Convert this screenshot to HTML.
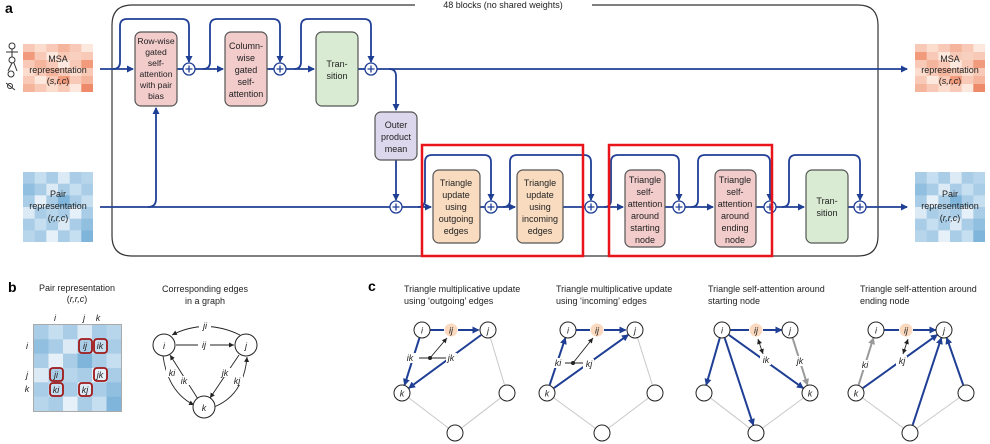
<!DOCTYPE html>
<html><head><meta charset="utf-8"><style>
html,body{margin:0;padding:0;background:#fff;}
svg{display:block;font-family:"Liberation Sans",sans-serif;}
.bx{stroke:#555;stroke-width:1.2;}
.t{font-size:9px;fill:#222;text-anchor:middle;}
.bl{stroke:#1f3f95;stroke-width:1.8;fill:none;}
.pl{fill:#fff;stroke:#1f3f95;stroke-width:1.3;}
.it{font-style:italic;}
.n{fill:#fff;stroke:#222;stroke-width:1;}
.g{stroke:#c8c8c8;stroke-width:1;fill:none;}
.k{stroke:#222;stroke-width:0.9;fill:none;}
.b2{stroke:#1f3f95;stroke-width:2;fill:none;}
.ga{stroke:#9a9a9a;stroke-width:2;fill:none;}
.px{stroke:#1f3f95;stroke-width:1.3;}
</style></head><body>
<svg width="990" height="444" viewBox="0 0 990 444" xmlns="http://www.w3.org/2000/svg">
<defs>
<marker id="a" markerWidth="8" markerHeight="8" refX="6" refY="4" orient="auto" markerUnits="userSpaceOnUse"><path d="M0,0.5 L7,4 L0,7.5 Z" fill="#1f3f95"/></marker>
<marker id="ag" markerWidth="8" markerHeight="8" refX="6" refY="4" orient="auto" markerUnits="userSpaceOnUse"><path d="M0,0.5 L7,4 L0,7.5 Z" fill="#999"/></marker>
<marker id="ak" markerWidth="6" markerHeight="6" refX="5" refY="3" orient="auto" markerUnits="userSpaceOnUse"><path d="M0,0.5 L5,3 L0,5.5 Z" fill="#222"/></marker>
<marker id="aks" markerWidth="6" markerHeight="6" refX="0" refY="3" orient="auto" markerUnits="userSpaceOnUse"><path d="M5,0.5 L0,3 L5,5.5 Z" fill="#222"/></marker>
<g id="rg">
<rect x="0" y="0" width="60" height="60" fill="#f7c9b6"/>
<rect x="0" y="10" width="10" height="10" fill="#f29a7c"/><rect x="10" y="0" width="10" height="10" fill="#fbdccd"/><rect x="30" y="0" width="10" height="10" fill="#f5b59c"/><rect x="50" y="0" width="10" height="10" fill="#fde8de"/>
<rect x="20" y="10" width="10" height="10" fill="#fde8de"/><rect x="40" y="10" width="10" height="10" fill="#f8d0c0"/><rect x="10" y="20" width="10" height="10" fill="#f5b59c"/><rect x="30" y="20" width="10" height="10" fill="#fde8de"/>
<rect x="50" y="20" width="10" height="10" fill="#f29a7c"/><rect x="0" y="30" width="10" height="10" fill="#fbdccd"/><rect x="20" y="30" width="10" height="10" fill="#f5b59c"/><rect x="40" y="30" width="10" height="10" fill="#fbdccd"/>
<rect x="10" y="40" width="10" height="10" fill="#fde8de"/><rect x="30" y="40" width="10" height="10" fill="#f29a7c"/><rect x="50" y="40" width="10" height="10" fill="#f5b59c"/><rect x="0" y="50" width="10" height="10" fill="#f5b59c"/>
<rect x="20" y="50" width="10" height="10" fill="#fbdccd"/><rect x="40" y="50" width="10" height="10" fill="#fde8de"/><rect x="50" y="50" width="10" height="10" fill="#ee8a6a"/>
</g>
<g id="bg">
<rect x="0" y="0" width="60" height="60" fill="#a9cde6"/>
<rect x="0" y="10" width="10" height="10" fill="#90bfe0"/><rect x="10" y="0" width="10" height="10" fill="#c5def0"/><rect x="30" y="0" width="10" height="10" fill="#dceaf5"/><rect x="50" y="0" width="10" height="10" fill="#b7d6ec"/>
<rect x="20" y="10" width="10" height="10" fill="#dceaf5"/><rect x="40" y="10" width="10" height="10" fill="#c5def0"/><rect x="10" y="20" width="10" height="10" fill="#e6f0f8"/><rect x="30" y="20" width="10" height="10" fill="#7fb5db"/>
<rect x="50" y="20" width="10" height="10" fill="#c5def0"/><rect x="0" y="30" width="10" height="10" fill="#dceaf5"/><rect x="20" y="30" width="10" height="10" fill="#b7d6ec"/><rect x="40" y="30" width="10" height="10" fill="#e6f0f8"/>
<rect x="10" y="40" width="10" height="10" fill="#c5def0"/><rect x="30" y="40" width="10" height="10" fill="#dceaf5"/><rect x="50" y="40" width="10" height="10" fill="#90bfe0"/><rect x="0" y="50" width="10" height="10" fill="#b7d6ec"/>
<rect x="20" y="50" width="10" height="10" fill="#e6f0f8"/><rect x="40" y="50" width="10" height="10" fill="#c5def0"/><rect x="50" y="50" width="10" height="10" fill="#7fb5db"/>
</g>
</defs>
<text x="5" y="13" font-size="14" font-weight="bold">a</text>
<path d="M415,5 H132 Q112,5 112,25 V236 Q112,256 132,256 H858 Q878,256 878,236 V25 Q878,5 858,5 H592" fill="none" stroke="#333" stroke-width="1.2"/>
<text x="503" y="8" font-size="9" text-anchor="middle" fill="#222">48 blocks (no shared weights)</text>
<use href="#rg" transform="translate(23,44) scale(1.1667,0.8)"/>
<use href="#rg" transform="translate(915,44) scale(1.1667,0.8)"/>
<use href="#bg" transform="translate(23,172) scale(1.1667,1.1667)"/>
<use href="#bg" transform="translate(915,172) scale(1.1667,1.1667)"/>
<text class="t" x="58" y="62">MSA</text><text class="t" x="58" y="73">representation</text><text class="t" x="58" y="84">(<tspan class="it">s,r,c</tspan>)</text>
<text class="t" x="950" y="62">MSA</text><text class="t" x="950" y="73">representation</text><text class="t" x="950" y="84">(<tspan class="it">s,r,c</tspan>)</text>
<text class="t" x="58" y="197">Pair</text><text class="t" x="58" y="209">representation</text><text class="t" x="58" y="221">(<tspan class="it">r,r,c</tspan>)</text>
<text class="t" x="950" y="197">Pair</text><text class="t" x="950" y="209">representation</text><text class="t" x="950" y="221">(<tspan class="it">r,r,c</tspan>)</text>
<g stroke="#333" fill="none" stroke-width="1"><circle cx="12" cy="46" r="3"/><circle cx="12" cy="60" r="3"/><circle cx="11" cy="74" r="3"/><circle cx="10" cy="86" r="2.5"/><path d="M12,49 V57 M6,52 H18 M12,63 L8,71 M14,63 L17,71 M6,83 L15,90"/></g>
<path class="bl" d="M100,69 H133" marker-end="url(#a)"/>
<path class="bl" d="M177,69 H183"/>
<path class="bl" d="M195,69 H223" marker-end="url(#a)"/>
<path class="bl" d="M267,69 H274"/>
<path class="bl" d="M286,69 H314" marker-end="url(#a)"/>
<path class="bl" d="M358,69 H365"/>
<path class="bl" d="M377,69 H907" marker-end="url(#a)"/>
<path class="bl" d="M113,69 Q120,69 120,62 V26 Q120,19 127,19 H182 Q189,19 189,26 V62" marker-end="url(#a)"/>
<path class="bl" d="M203,69 Q210,69 210,62 V26 Q210,19 217,19 H273 Q280,19 280,26 V62" marker-end="url(#a)"/>
<path class="bl" d="M294,69 Q301,69 301,62 V26 Q301,19 308,19 H364 Q371,19 371,26 V62" marker-end="url(#a)"/>
<path class="bl" d="M389,69 Q396,69 396,76 V110" marker-end="url(#a)"/>
<path class="bl" d="M396,160 V200" marker-end="url(#a)"/>
<path class="bl" d="M100,207 H390"/>
<path class="bl" d="M148,207 Q156,207 156,199 V108" marker-end="url(#a)"/>
<path class="bl" d="M402,207 H431" marker-end="url(#a)"/>
<path class="bl" d="M480,207 H485"/><path class="bl" d="M497,207 H515" marker-end="url(#a)"/>
<path class="bl" d="M563,207 H585"/><path class="bl" d="M597,207 H623" marker-end="url(#a)"/>
<path class="bl" d="M665,207 H673"/><path class="bl" d="M685,207 H713" marker-end="url(#a)"/>
<path class="bl" d="M756,207 H764"/><path class="bl" d="M776,207 H804" marker-end="url(#a)"/>
<path class="bl" d="M848,207 H854"/><path class="bl" d="M866,207 H907" marker-end="url(#a)"/>
<path class="bl" d="M418,207 Q425,207 425,200 V162 Q425,155 432,155 H484 Q491,155 491,162 V200" marker-end="url(#a)"/>
<path class="bl" d="M503,207 Q510,207 510,200 V162 Q510,155 517,155 H584 Q591,155 591,162 V200" marker-end="url(#a)"/>
<path class="bl" d="M604,207 Q611,207 611,200 V162 Q611,155 618,155 H672 Q679,155 679,162 V200" marker-end="url(#a)"/>
<path class="bl" d="M691,207 Q698,207 698,200 V162 Q698,155 705,155 H763 Q770,155 770,162 V200" marker-end="url(#a)"/>
<path class="bl" d="M782,207 Q789,207 789,200 V162 Q789,155 796,155 H853 Q860,155 860,162 V200" marker-end="url(#a)"/>
<g>
<circle class="pl" cx="189" cy="69" r="6"/><path class="px" d="M185.5,69H192.5M189,65.5V72.5"/>
<circle class="pl" cx="280" cy="69" r="6"/><path class="px" d="M276.5,69H283.5M280,65.5V72.5"/>
<circle class="pl" cx="371" cy="69" r="6"/><path class="px" d="M367.5,69H374.5M371,65.5V72.5"/>
<circle class="pl" cx="396" cy="207" r="6"/><path class="px" d="M392.5,207H399.5M396,203.5V210.5"/>
<circle class="pl" cx="491" cy="207" r="6"/><path class="px" d="M487.5,207H494.5M491,203.5V210.5"/>
<circle class="pl" cx="591" cy="207" r="6"/><path class="px" d="M587.5,207H594.5M591,203.5V210.5"/>
<circle class="pl" cx="679" cy="207" r="6"/><path class="px" d="M675.5,207H682.5M679,203.5V210.5"/>
<circle class="pl" cx="770" cy="207" r="6"/><path class="px" d="M766.5,207H773.5M770,203.5V210.5"/>
<circle class="pl" cx="860" cy="207" r="6"/><path class="px" d="M856.5,207H863.5M860,203.5V210.5"/>
</g>
<rect class="bx" x="135" y="32" width="42" height="74" rx="6" fill="#f2cbcb"/>
<text class="t" style="font-size:8.6px" x="156" y="44">Row-wise</text><text class="t" style="font-size:8.6px" x="156" y="55">gated</text><text class="t" style="font-size:8.6px" x="156" y="66">self-</text><text class="t" style="font-size:8.6px" x="156" y="77">attention</text><text class="t" style="font-size:8.6px" x="156" y="88">with pair</text><text class="t" style="font-size:8.6px" x="156" y="99">bias</text>
<rect class="bx" x="225" y="32" width="42" height="74" rx="6" fill="#f2cbcb"/>
<text class="t" x="246" y="49">Column-</text><text class="t" x="246" y="61">wise</text><text class="t" x="246" y="73">gated</text><text class="t" x="246" y="85">self-</text><text class="t" x="246" y="97">attention</text>
<rect class="bx" x="316" y="32" width="42" height="74" rx="6" fill="#d9ebd3"/>
<text class="t" x="337" y="67">Tran-</text><text class="t" x="337" y="79">sition</text>
<rect class="bx" x="375" y="112" width="42" height="48" rx="6" fill="#dcd7ec"/>
<text class="t" x="396" y="128">Outer</text><text class="t" x="396" y="140">product</text><text class="t" x="396" y="152">mean</text>
<rect class="bx" x="433" y="170" width="47" height="73" rx="6" fill="#f9dcc0"/>
<text class="t" x="456" y="186">Triangle</text><text class="t" x="456" y="198">update</text><text class="t" x="456" y="210">using</text><text class="t" x="456" y="222">outgoing</text><text class="t" x="456" y="234">edges</text>
<rect class="bx" x="517" y="170" width="46" height="73" rx="6" fill="#f9dcc0"/>
<text class="t" x="540" y="186">Triangle</text><text class="t" x="540" y="198">update</text><text class="t" x="540" y="210">using</text><text class="t" x="540" y="222">incoming</text><text class="t" x="540" y="234">edges</text>
<rect class="bx" x="625" y="170" width="40" height="77" rx="6" fill="#f2cbcb"/>
<text class="t" x="645" y="183">Triangle</text><text class="t" x="645" y="195">self-</text><text class="t" x="645" y="207">attention</text><text class="t" x="645" y="219">around</text><text class="t" x="645" y="231">starting</text><text class="t" x="645" y="243">node</text>
<rect class="bx" x="715" y="170" width="41" height="77" rx="6" fill="#f2cbcb"/>
<text class="t" x="735" y="183">Triangle</text><text class="t" x="735" y="195">self-</text><text class="t" x="735" y="207">attention</text><text class="t" x="735" y="219">around</text><text class="t" x="735" y="231">ending</text><text class="t" x="735" y="243">node</text>
<rect class="bx" x="806" y="170" width="42" height="73" rx="6" fill="#d9ebd3"/>
<text class="t" x="827" y="204">Tran-</text><text class="t" x="827" y="216">sition</text>
<rect x="422" y="145" width="161" height="111" fill="none" stroke="#e8141a" stroke-width="2.5"/>
<rect x="609" y="145" width="163" height="111" fill="none" stroke="#e8141a" stroke-width="2.5"/>

<!-- b -->
<text x="8" y="292" font-size="14" font-weight="bold">b</text>
<text class="t" x="77" y="291">Pair representation</text><text class="t" x="77" y="302">(<tspan class="it">r,r,c</tspan>)</text>
<rect x="33" y="324" width="89" height="88" fill="#aaa"/>
<use href="#bg" transform="translate(34,325) scale(1.45,1.433)"/>
<g class="t it"><text x="55" y="321">i</text><text x="84" y="321">j</text><text x="98" y="321">k</text><text x="27" y="349">i</text><text x="27" y="378">j</text><text x="27" y="392">k</text></g>
<g fill="none" stroke="#a01818" stroke-width="1.8"><rect x="79" y="339" width="13" height="14" rx="3"/><rect x="94" y="339" width="13" height="14" rx="3"/><rect x="50" y="368" width="13" height="13" rx="3"/><rect x="94" y="368" width="13" height="13" rx="3"/><rect x="50" y="383" width="13" height="13" rx="3"/><rect x="79" y="383" width="13" height="13" rx="3"/></g>
<g class="t it"><text x="85" y="349">ij</text><text x="100" y="349">ik</text><text x="56" y="378">ji</text><text x="100" y="378">jk</text><text x="56" y="393">ki</text><text x="85" y="393">kj</text></g>
<text class="t" x="205" y="292">Corresponding edges</text><text class="t" x="205" y="304">in a graph</text>
<path class="k" d="M240,335 Q205,318 172,335" marker-end="url(#ak)"/>
<path class="k" d="M176,345 H234" marker-end="url(#ak)"/>
<path class="k" d="M163,356 Q168,392 194,405" marker-end="url(#ak)"/>
<path class="k" d="M198,399 L170,355" marker-end="url(#ak)"/>
<path class="k" d="M239,355 L210,398" marker-end="url(#ak)"/>
<path class="k" d="M214,407 Q244,395 247,357" marker-end="url(#ak)"/>
<g fill="#fff"><rect x="199" y="321" width="12" height="9"/><rect x="198" y="340" width="12" height="9"/><rect x="166" y="368" width="12" height="9"/><rect x="178" y="376" width="12" height="9"/><rect x="219" y="368" width="12" height="9"/><rect x="231" y="376" width="12" height="9"/></g>
<g class="t it"><text x="205" y="329">ji</text><text x="204" y="348">ij</text><text x="184" y="384">ik</text><text x="172" y="376">ki</text><text x="225" y="376">jk</text><text x="237" y="384">kj</text></g>
<circle class="n" cx="164" cy="345" r="11"/><circle class="n" cx="246" cy="345" r="11"/><circle class="n" cx="204" cy="407" r="11"/>
<g class="t it"><text x="164" y="349">i</text><text x="246" y="349">j</text><text x="204" y="411">k</text></g>

<!-- c -->
<text x="368" y="291" font-size="14" font-weight="bold">c</text>
<g class="t"><text x="404" y="292" text-anchor="start">Triangle multiplicative update</text><text x="404" y="304" text-anchor="start">using ‘outgoing’ edges</text>
<text x="556" y="292" text-anchor="start">Triangle multiplicative update</text><text x="556" y="304" text-anchor="start">using ‘incoming’ edges</text>
<text x="708" y="292" text-anchor="start">Triangle self-attention around</text><text x="708" y="304" text-anchor="start">starting node</text>
<text x="860" y="292" text-anchor="start">Triangle self-attention around</text><text x="860" y="304" text-anchor="start">ending node</text></g>

<!-- panel1 -->
<line class="g" x1="490.5" y1="338.1" x2="504.5" y2="384.9"/><line class="g" x1="500.3" y1="398.2" x2="461.7" y2="427.8"/><line class="g" x1="448.2" y1="427.9" x2="408.8" y2="397.9"/>
<line class="b2" x1="430.5" y1="330" x2="444" y2="330"/><line class="b2" x1="458" y1="330" x2="478.5" y2="330" marker-end="url(#a)"/>
<line class="b2" x1="419.4" y1="338.1" x2="404.6" y2="384.9" marker-end="url(#a)"/>
<line class="b2" x1="481.1" y1="335" x2="408.9" y2="388" marker-end="url(#a)"/>
<line x1="419" y1="358" x2="446" y2="358" stroke="#222" stroke-width="0.9"/><circle cx="430" cy="358" r="2" fill="#222"/>
<line class="k" x1="430" y1="358" x2="447" y2="338" marker-end="url(#ak)"/>
<rect x="405" y="353" width="11" height="10" fill="#fff"/><rect x="446" y="353" width="11" height="10" fill="#fff"/>
<text class="t it" x="410" y="361">ik</text><text class="t it" x="451" y="361">jk</text>
<circle class="n" cx="422" cy="330" r="8"/><circle class="n" cx="488" cy="330" r="8"/><circle class="n" cx="402" cy="393" r="8"/><circle class="n" cx="507" cy="393" r="8"/><circle class="n" cx="455" cy="433" r="8"/>
<circle cx="451" cy="330" r="6.5" fill="#fbd9bf"/>
<g class="t it"><text x="422" y="333.5">i</text><text x="488" y="333.5">j</text><text x="402" y="396.5">k</text><text x="451" y="333.5">ij</text></g>

<!-- panel2 -->
<line class="g" x1="637.6" y1="338.1" x2="652.4" y2="384.9"/><line class="g" x1="648.2" y1="398.1" x2="608.8" y2="427.9"/><line class="g" x1="595.1" y1="428" x2="553.9" y2="398"/>
<line class="b2" x1="576.5" y1="330" x2="590" y2="330"/><line class="b2" x1="604" y1="330" x2="625.5" y2="330" marker-end="url(#a)"/>
<line class="b2" x1="549.7" y1="384.9" x2="565.3" y2="338.1" marker-end="url(#a)"/>
<line class="b2" x1="553.9" y1="388.1" x2="628.1" y2="334.9" marker-end="url(#a)"/>
<line x1="565" y1="363" x2="591" y2="363" stroke="#222" stroke-width="0.9"/><circle cx="573" cy="363" r="2" fill="#222"/>
<line class="k" x1="573" y1="363" x2="593" y2="338" marker-end="url(#ak)"/>
<rect x="552" y="358" width="11" height="10" fill="#fff"/><rect x="583" y="359" width="11" height="10" fill="#fff"/>
<text class="t it" x="558" y="366">ki</text><text class="t it" x="589" y="367">kj</text>
<circle class="n" cx="568" cy="330" r="8"/><circle class="n" cx="635" cy="330" r="8"/><circle class="n" cx="547" cy="393" r="8"/><circle class="n" cx="655" cy="393" r="8"/><circle class="n" cx="602" cy="433" r="8"/>
<circle cx="597" cy="330" r="6.5" fill="#fbd9bf"/>
<g class="t it"><text x="568" y="333.5">i</text><text x="635" y="333.5">j</text><text x="547" y="396.5">k</text><text x="597" y="333.5">ij</text></g>

<!-- panel3 -->
<line class="g" x1="710.7" y1="398.2" x2="749.3" y2="427.8"/><line class="g" x1="762.8" y1="427.9" x2="803.2" y2="398.1"/>
<line class="b2" x1="730.5" y1="330" x2="749" y2="330"/><line class="b2" x1="763" y1="330" x2="781.5" y2="330" marker-end="url(#a)"/>
<line class="b2" x1="719.7" y1="338.2" x2="706.3" y2="384.8" marker-end="url(#a)"/>
<line class="b2" x1="724.7" y1="338.1" x2="753.3" y2="424.9" marker-end="url(#a)"/>
<line class="b2" x1="728.9" y1="334.9" x2="803.1" y2="388.1" marker-end="url(#a)"/>
<line class="ga" x1="792.6" y1="338.1" x2="807.4" y2="384.9" marker-end="url(#ag)"/>
<line class="k" x1="758" y1="339" x2="763" y2="354" marker-end="url(#ak)" marker-start="url(#aks)"/>
<rect x="760" y="355" width="11" height="10" fill="#fff"/><text class="t it" x="766" y="363">ik</text>
<rect x="794" y="356" width="11" height="10" fill="#fff"/><text class="t it" x="800" y="364">jk</text>
<circle class="n" cx="722" cy="330" r="8"/><circle class="n" cx="790" cy="330" r="8"/><circle class="n" cx="704" cy="393" r="8"/><circle class="n" cx="810" cy="393" r="8"/><circle class="n" cx="756" cy="433" r="8"/>
<circle cx="756" cy="330" r="6.5" fill="#fbd9bf"/>
<g class="t it"><text x="722" y="333.5">i</text><text x="790" y="333.5">j</text><text x="810" y="396.5">k</text><text x="756" y="333.5">ij</text></g>

<!-- panel4 -->
<line class="g" x1="862.8" y1="398.1" x2="903.2" y2="427.9"/><line class="g" x1="916.9" y1="428.1" x2="959.1" y2="397.9"/>
<line class="b2" x1="884.5" y1="330" x2="899" y2="330"/><line class="b2" x1="913" y1="330" x2="935.5" y2="330" marker-end="url(#a)"/>
<line class="ga" x1="858.6" y1="384.9" x2="873.4" y2="338.1" marker-end="url(#ag)"/>
<line class="b2" x1="862.9" y1="388.1" x2="937.1" y2="334.9" marker-end="url(#a)"/>
<line class="b2" x1="912.7" y1="424.9" x2="941.3" y2="338.1" marker-end="url(#a)"/>
<line class="b2" x1="963.2" y1="385" x2="946.8" y2="338" marker-end="url(#a)"/>
<line class="k" x1="908" y1="339" x2="903" y2="354" marker-end="url(#ak)" marker-start="url(#aks)"/>
<rect x="859" y="360" width="11" height="10" fill="#fff"/><text class="t it" x="865" y="368">ki</text>
<rect x="896" y="356" width="11" height="10" fill="#fff"/><text class="t it" x="902" y="364">kj</text>
<circle class="n" cx="876" cy="330" r="8"/><circle class="n" cx="944" cy="330" r="8"/><circle class="n" cx="856" cy="393" r="8"/><circle class="n" cx="966" cy="393" r="8"/><circle class="n" cx="910" cy="433" r="8"/>
<circle cx="906" cy="330" r="6.5" fill="#fbd9bf"/>
<g class="t it"><text x="876" y="333.5">i</text><text x="944" y="333.5">j</text><text x="856" y="396.5">k</text><text x="906" y="333.5">ij</text></g>
</svg>
</body></html>
